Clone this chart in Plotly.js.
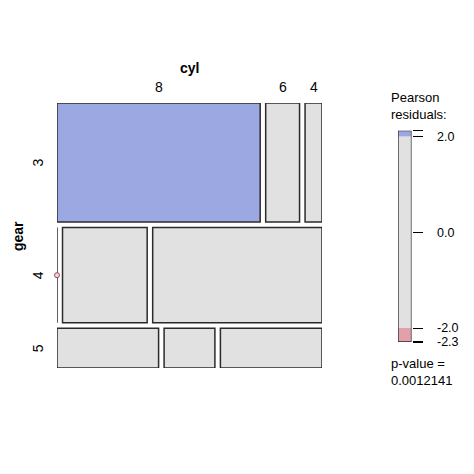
<!DOCTYPE html>
<html>
<head>
<meta charset="utf-8">
<script src="https://cdn.plot.ly/plotly-3.0.1.min.js"></script>
<style>
  html, body { margin: 0; padding: 0; background: white; }
  #plot { width: 474px; height: 474px; }
</style>
</head>
<body>
<div id="plot"></div>
<script>
// mosaic gear x cyl (mtcars), rows = gear, columns = cyl
const gearLevels = ['3', '4', '5'];
const cylLevels = ['8', '6', '4'];
const counts = [
  [12, 2, 1],   // gear 3
  [0, 4, 8],    // gear 4
  [2, 1, 2]     // gear 5
];
const legendTicks = [2.12, 2.0, 0.0, -2.0, -2.29];
const legendLabels = ['', '2.0', '0.0', '-2.0', '-2.3'];
const legendTitle = 'Pearson<br>residuals:';
const pValueText = 'p-value =<br>0.0012141';

const colBlue = '#9ca8e1';
const colRed = '#e4a0aa';
const colGrey = '#e1e1e1';
const colBorder = '#2b2b2b';

// pixel -> paper helpers (margins are 0)
const W = 474, H = 474;
const px = x => x / W;
const py = y => 1 - y / H;

const gap = 0.0217;
const total = counts.flat().reduce((a, b) => a + b, 0);
const rowTot = counts.map(r => r.reduce((a, b) => a + b, 0));
const colTot = cylLevels.map((_, j) => counts.reduce((a, r) => a + r[j], 0));

// pearson residuals for the shading
const resid = counts.map((r, i) => r.map((o, j) => {
  const e = rowTot[i] * colTot[j] / total;
  return (o - e) / Math.sqrt(e);
}));

function shade(r) {
  if (r > 2) return colBlue;
  if (r < -2) return colRed;
  return colGrey;
}

let bx = [], bw = [], bbase = [], bh = [], bcol = [];
let zeroX = [], zeroY = [], lineTraces = [];
let rowCenters = [], firstRowCenters = [];
let y0 = 0;
counts.forEach((row, i) => {
  const h = rowTot[i] / total;
  rowCenters.push(y0 + h / 2);
  let x0 = 0;
  row.forEach((c, j) => {
    const w = c / rowTot[i];
    if (c > 0) {
      bx.push(x0 + w / 2); bw.push(w); bbase.push(y0); bh.push(h);
      bcol.push(shade(resid[i][j]));
    } else {
      lineTraces.push({
        x: [x0, x0], y: [y0, y0 + h], mode: 'lines', type: 'scatter',
        line: { color: colBorder, width: 1.5 }, hoverinfo: 'skip', showlegend: false, cliponaxis: false
      });
      zeroX.push(x0); zeroY.push(y0 + h / 2);
    }
    if (i === 0) firstRowCenters.push(x0 + w / 2);
    x0 += w + gap;
  });
  y0 += h + gap;
});

const cells = {
  type: 'bar', x: bx, y: bh, base: bbase, width: bw,
  marker: { color: bcol, line: { color: colBorder, width: 1.5 } },
  hoverinfo: 'skip', showlegend: false, cliponaxis: false
};
const zeros = {
  type: 'scatter', mode: 'markers', x: zeroX, y: zeroY,
  marker: { symbol: 'circle', size: 5, color: '#f2d4d8', line: { color: '#9a4a5a', width: 1 } },
  hoverinfo: 'skip', showlegend: false, cliponaxis: false
};

const lo = legendTicks[legendTicks.length - 1], hi = legendTicks[0];
const legendBar = {
  type: 'bar', xaxis: 'x2', yaxis: 'y2',
  x: [0, 0, 0], base: [lo, -2, 2], y: [-2 - lo, 4, hi - 2], width: [1, 1, 1],
  marker: { color: [colRed, colGrey, colBlue], line: { width: 0 } },
  hoverinfo: 'skip', showlegend: false
};

const fam = 'Liberation Sans, Arial, sans-serif';
const font = { family: fam, size: 14, color: '#000' };
const fontB = { family: fam, size: 14, color: '#000', weight: 'bold' };
const fontS = { family: fam, size: 13, color: '#000' };
const fontT = { family: fam, size: 12.5, color: '#000' };

function ann(o) {
  return Object.assign({ showarrow: false, xanchor: 'center', yanchor: 'middle' }, o);
}

let annotations = [];
annotations.push(ann({ text: '<b>cyl</b>', xref: 'paper', yref: 'paper', x: px(189.5), y: py(68), font: fontB }));
annotations.push(ann({ text: '<b>gear</b>', xref: 'paper', yref: 'paper', x: px(18), y: py(236), textangle: -90, font: fontB }));
cylLevels.forEach((lab, j) => {
  annotations.push(ann({ text: lab, xref: 'x', yref: 'paper', x: firstRowCenters[j], y: py(87), font: font }));
});
gearLevels.forEach((lab, i) => {
  annotations.push(ann({ text: lab, xref: 'paper', yref: 'y', x: px(38), y: rowCenters[i], textangle: -90, font: font }));
});
annotations.push(ann({ text: legendTitle, xref: 'paper', yref: 'paper', x: px(389), y: py(105.5), xanchor: 'left', align: 'left', font: fontS }));
annotations.push(ann({ text: pValueText, xref: 'paper', yref: 'paper', x: px(389), y: py(372), xanchor: 'left', align: 'left', font: fontS }));

const layout = {
  width: W, height: H,
  margin: { l: 0, r: 0, t: 0, b: 0 },
  paper_bgcolor: 'white', plot_bgcolor: 'rgba(0,0,0,0)',
  barmode: 'overlay',
  xaxis: { domain: [px(57), px(322)], range: [0, 1 + 2 * gap], visible: false, fixedrange: true },
  yaxis: { domain: [py(368), py(103)], range: [1 + 2 * gap, 0], visible: false, fixedrange: true },
  xaxis2: { domain: [px(398), px(411.5)], range: [-0.5, 0.5], visible: false, anchor: 'y2' },
  yaxis2: {
    domain: [py(342), py(130.7)], range: [lo, hi], anchor: 'x2', side: 'right',
    tickmode: 'array', tickvals: legendTicks, ticktext: legendLabels,
    ticks: 'outside', ticklen: 10, tickwidth: 1.2, tickcolor: '#000',
    ticklabelstandoff: 12,
    showgrid: false, zeroline: false, showline: false, tickfont: fontT
  },
  shapes: [{
    type: 'rect', xref: 'x2', yref: 'y2', x0: -0.5, x1: 0.5, y0: lo, y1: hi,
    line: { color: colBorder, width: 1.3 }, fillcolor: 'rgba(0,0,0,0)'
  }],
  annotations: annotations,
  font: font
};

Plotly.newPlot('plot', [cells, legendBar].concat(lineTraces, [zeros]), layout, { staticPlot: true, displayModeBar: false });
</script>
</body>
</html>
